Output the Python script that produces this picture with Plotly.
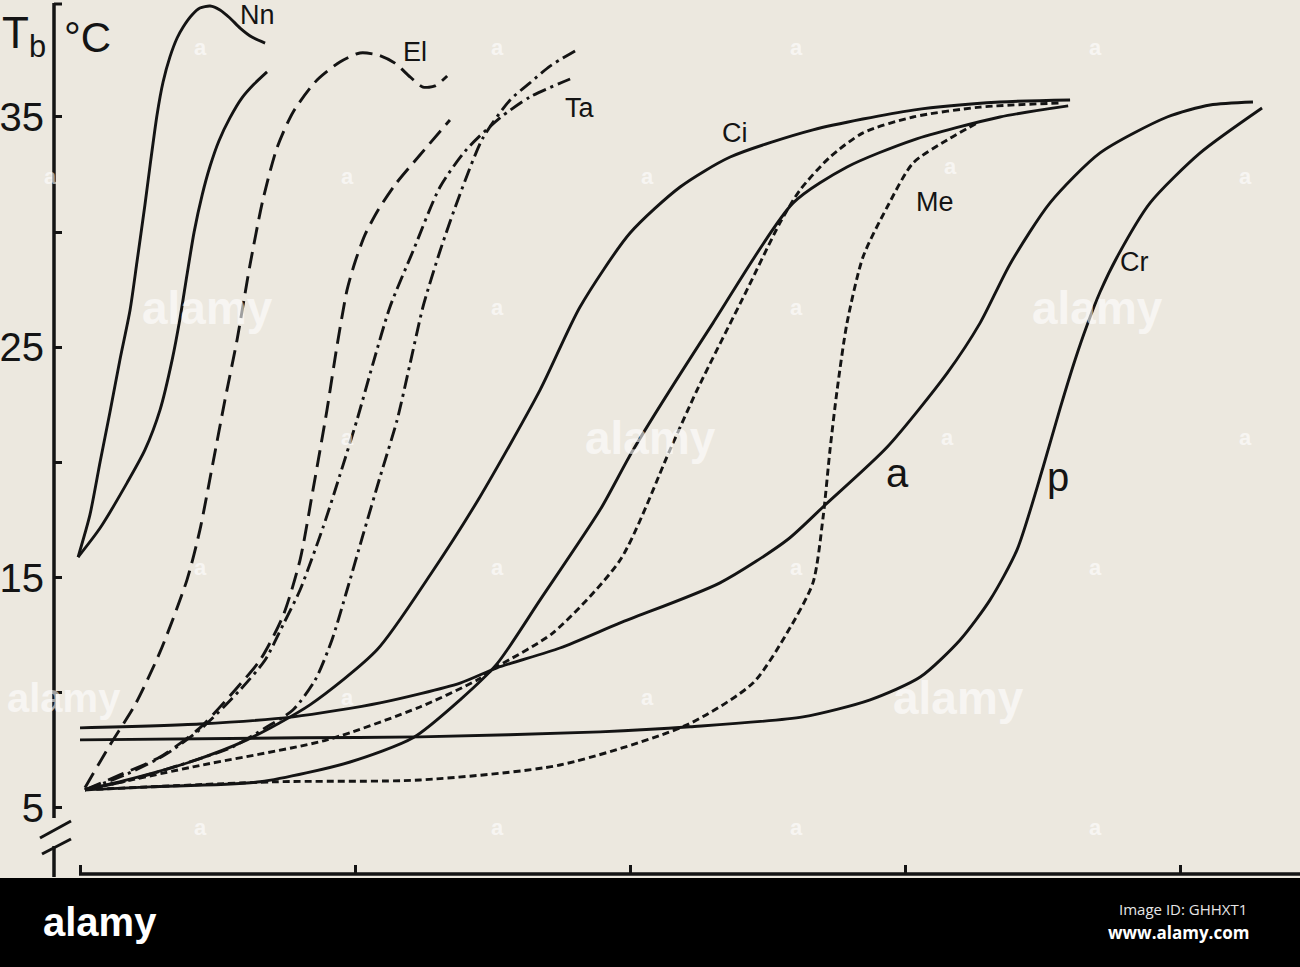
import plotly.graph_objects as go

# ---------------- data (x: time in axis-tick units, T: body temperature in deg C) -------------
nn1_x = [-0.007, 0.036, 0.073, 0.109, 0.145, 0.182, 0.207, 0.236, 0.255, 0.280, 0.302, 0.327,
         0.353, 0.375, 0.407, 0.436, 0.473, 0.509, 0.545, 0.582, 0.625, 0.673]
nn1_t = [15.89, 17.72, 20.02, 22.19, 24.45, 26.62, 28.70, 31.18, 32.92, 35.09, 36.52, 37.61,
         38.43, 38.91, 39.43, 39.73, 39.82, 39.65, 39.30, 38.86, 38.47, 38.21]

nn2_x = [-0.007, 0.073, 0.171, 0.236, 0.291, 0.335, 0.364, 0.389, 0.415, 0.444, 0.473, 0.505,
         0.545, 0.589, 0.633, 0.680]
nn2_t = [15.89, 17.15, 19.11, 20.54, 22.28, 24.45, 26.28, 28.15, 30.01, 31.61, 32.87, 33.96,
         34.96, 35.83, 36.43, 36.96]

el_x = [0.018, 0.109, 0.200, 0.291, 0.389, 0.436, 0.484, 0.527, 0.571, 0.618, 0.665, 0.716,
        0.775, 0.862, 0.945, 1.018, 1.084, 1.145, 1.200, 1.247, 1.291, 1.335]
el_t = [5.87, 7.73, 9.47, 11.77, 14.90, 17.07, 20.02, 22.71, 25.32, 28.57, 31.40, 33.65,
        35.22, 36.61, 37.39, 37.78, 37.69, 37.34, 36.74, 36.30, 36.35, 36.78]

dash2_x = [0.018, 0.145, 0.291, 0.436, 0.564, 0.655, 0.738, 0.800, 0.847, 0.898, 0.935, 0.971,
           1.000, 1.036, 1.084, 1.145, 1.236, 1.345]
dash2_t = [5.78, 6.43, 7.21, 8.47, 10.12, 11.42, 13.33, 15.76, 18.80, 22.28, 25.10, 27.49,
           28.70, 29.88, 30.96, 32.05, 33.35, 34.87]

ta1_x = [0.018, 0.164, 0.309, 0.447, 0.582, 0.673, 0.738, 0.800, 0.884, 0.945, 1.007, 1.065,
         1.127, 1.211, 1.309, 1.407, 1.527, 1.636, 1.782]
ta1_t = [5.78, 6.43, 7.30, 8.51, 10.12, 11.42, 12.94, 14.46, 17.19, 19.45, 21.84, 24.28,
         26.75, 29.18, 31.96, 33.61, 34.96, 35.87, 36.65]

ta2_x = [0.018, 0.182, 0.364, 0.556, 0.673, 0.774, 0.855, 0.916, 0.971, 1.029, 1.091, 1.153,
         1.200, 1.247, 1.309, 1.382, 1.465, 1.564, 1.636, 1.709, 1.800]
ta2_t = [5.78, 6.21, 6.86, 7.65, 8.47, 9.25, 10.55, 12.29, 14.46, 16.85, 19.37, 21.84,
         24.28, 26.75, 29.18, 31.66, 34.09, 35.74, 36.48, 37.21, 37.87]

ci1_x = [0.018, 0.171, 0.400, 0.607, 0.836, 1.080, 1.273, 1.454, 1.673, 1.818, 2.000, 2.182,
         2.364, 2.665, 3.029, 3.345, 3.600]
ci1_t = [5.78, 6.21, 6.99, 7.95, 9.47, 11.86, 15.11, 18.50, 23.15, 26.75, 29.96, 31.96,
         33.26, 34.44, 35.30, 35.65, 35.74]

ci2_x = [0.018, 0.255, 0.655, 0.982, 1.211, 1.382, 1.516, 1.673, 1.891, 2.011, 2.302, 2.593,
         2.789, 3.029, 3.345, 3.593]
ci2_t = [5.78, 5.91, 6.13, 6.99, 8.04, 9.69, 11.25, 14.03, 17.94, 20.54, 26.06, 31.27,
         32.83, 34.00, 35.00, 35.48]

me1_x = [0.018, 0.411, 0.898, 1.236, 1.444, 1.516, 1.720, 1.964, 2.145, 2.244, 2.425, 2.545,
         2.618, 2.727, 2.847, 3.029, 3.273, 3.564]
me1_t = [5.78, 6.78, 7.95, 9.38, 10.55, 11.12, 12.60, 15.76, 20.54, 23.15, 27.49, 30.40,
         31.83, 33.26, 34.31, 35.00, 35.43, 35.61]

me2_x = [0.018, 0.702, 1.236, 1.745, 2.207, 2.447, 2.571, 2.665, 2.702, 2.727, 2.753, 2.789,
         2.847, 2.935, 3.029, 3.153, 3.262]
me2_t = [5.78, 6.13, 6.21, 6.86, 8.60, 10.42, 12.60, 14.77, 17.63, 20.54, 23.15, 26.06,
         28.92, 31.09, 33.00, 34.00, 34.74]

cra_x = [0.000, 0.436, 0.775, 1.091, 1.382, 1.516, 1.745, 1.964, 2.327, 2.571, 2.709, 2.935,
         3.153, 3.273, 3.382, 3.527, 3.709, 3.953, 4.109, 4.265]
cra_t = [8.47, 8.64, 8.95, 9.56, 10.42, 11.08, 11.94, 13.03, 14.77, 16.63, 18.15, 20.67,
         23.88, 26.06, 28.62, 31.27, 33.44, 35.00, 35.52, 35.65]

crp_x = [0.000, 0.800, 1.236, 1.891, 2.218, 2.629, 2.873, 3.055, 3.200, 3.309, 3.407, 3.502,
         3.564, 3.618, 3.662, 3.709, 3.771, 3.891, 4.073, 4.298]
crp_t = [7.95, 8.04, 8.08, 8.30, 8.52, 8.95, 9.69, 10.68, 12.29, 14.03, 16.20, 19.80,
         22.36, 24.45, 25.97, 27.40, 28.92, 31.27, 33.44, 35.39]

y_major_ticks = [5, 15, 25, 35]
y_minor_ticks = [10, 20, 30]
x_tick_vals = [0, 1, 2, 3, 4]

curve_labels = ["Nn", "El", "Ta", "Ci", "Me", "Cr", "a", "p"]
label_x = [0.647, 1.218, 1.818, 2.382, 3.109, 3.833, 2.971, 3.555]
label_t = [39.45, 37.82, 35.39, 34.31, 31.30, 28.70, 19.55, 19.35]

# ---------------- styling ----------------
BG = "#ece8df"
INK = "#141414"
FONT = "Liberation Sans, Arial, sans-serif"
WMFONT = "Liberation Sans, Arial, sans-serif"
LONG_DASH = "17px,8px"
SHORT_DASH = "7px,4px"
DASH_DOT = "14px,5px,3px,5px"

series = [
    (nn1_x, nn1_t, "solid"), (nn2_x, nn2_t, "solid"),
    (el_x, el_t, LONG_DASH), (dash2_x, dash2_t, LONG_DASH),
    (ta1_x, ta1_t, DASH_DOT), (ta2_x, ta2_t, DASH_DOT),
    (ci1_x, ci1_t, "solid"), (ci2_x, ci2_t, "solid"),
    (me1_x, me1_t, SHORT_DASH), (me2_x, me2_t, SHORT_DASH),
    (cra_x, cra_t, "solid"), (crp_x, crp_t, "solid"),
]

W, H = 1300, 967
ML, MB = 54, 94
PW, PH = W - ML, H - MB


def pxx(px):
    return (px - ML) / PW


def pxy(py):
    return (PH - py) / PH


def note(px, py, text, size, color=INK, family=FONT, xanchor="center"):
    return dict(x=pxx(px), y=pxy(py), xref="paper", yref="paper", text=text, showarrow=False,
                xanchor=xanchor, yanchor="middle", font=dict(family=family, size=size, color=color))


fig = go.Figure()
for xs, ts, dash in series:
    fig.add_trace(go.Scatter(x=xs, y=ts, mode="lines", hoverinfo="skip", showlegend=False,
                             line=dict(color=INK, width=2.9, dash=dash, shape="spline", smoothing=0.7)))

shapes = []
# y axis (broken) and top bracket
shapes.append(dict(type="line", xref="paper", yref="paper", x0=0, x1=0, y0=pxy(3), y1=pxy(818),
                   line=dict(color=INK, width=3.5)))
shapes.append(dict(type="line", xref="paper", yref="paper", x0=0, x1=pxx(62), y0=pxy(4), y1=pxy(4),
                   line=dict(color=INK, width=3)))
shapes.append(dict(type="line", xref="paper", yref="paper", x0=0, x1=0, y0=pxy(846), y1=pxy(877),
                   line=dict(color=INK, width=3.5)))
shapes.append(dict(type="line", xref="paper", yref="paper", x0=pxx(40), x1=pxx(71), y0=pxy(838), y1=pxy(821),
                   line=dict(color=INK, width=3)))
shapes.append(dict(type="line", xref="paper", yref="paper", x0=pxx(42), x1=pxx(71), y0=pxy(854), y1=pxy(839),
                   line=dict(color=INK, width=3)))
# x axis line
shapes.append(dict(type="line", xref="paper", yref="paper", x0=pxx(79), x1=1.0, y0=pxy(874), y1=pxy(874),
                   line=dict(color=INK, width=3.5)))
# bottom banner
shapes.append(dict(type="rect", xref="paper", yref="paper", x0=pxx(-5), x1=pxx(1305), y0=pxy(878), y1=pxy(970),
                   fillcolor="#000000", line=dict(width=0), layer="above"))

annotations = []
for txt, lx, lt in zip(curve_labels, label_x, label_t):
    big = txt in ("a", "p")
    annotations.append(dict(x=lx, y=lt, xref="x", yref="y", text=txt, showarrow=False,
                            xanchor="center", yanchor="middle",
                            font=dict(family=FONT, size=40 if big else 27, color=INK)))

# axis title
annotations.append(note(24, 36, "T<sub>b</sub>", 44))
annotations.append(note(87, 38, "°C", 42))

# watermark
WM = "rgba(255,255,255,0.6)"
small_marks = [(200, 47), (497, 47), (797, 47), (1095, 47),
               (50, 177), (347, 177), (647, 177), (950, 166), (1245, 177),
               (497, 307), (797, 307),
               (347, 437), (947, 437), (1245, 437),
               (200, 567), (497, 567), (797, 567), (1095, 567),
               (347, 697), (647, 697),
               (200, 827), (497, 827), (797, 827), (1095, 827)]
for wx, wy in small_marks:
    annotations.append(note(wx, wy, "<b>a</b>", 22, WM, WMFONT))
for wx, wy, ws in [(207, 308, 46), (1097, 308, 46), (650, 438, 46), (64, 698, 40), (958, 698, 46)]:
    annotations.append(note(wx, wy, "<b>alamy</b>", ws, WM, WMFONT))

# banner text
annotations.append(note(100, 922, "<b>alamy</b>", 40, "#ffffff", WMFONT))
annotations.append(note(1249, 909, "Image ID: GHHXT1", 15, "#e6e6e6",
                        "Open Sans, Noto Sans, sans-serif", xanchor="right"))
annotations.append(note(1251, 932, "<b>www.alamy.com</b>", 17, "#ffffff",
                        "Open Sans, Noto Sans, sans-serif", xanchor="right"))

fig.update_layout(
    width=W, height=H, autosize=False,
    margin=dict(l=ML, r=0, t=0, b=MB, pad=0),
    paper_bgcolor=BG, plot_bgcolor=BG,
    shapes=shapes, annotations=annotations,
    xaxis=dict(range=[-0.0946, 4.436], showgrid=False, zeroline=False, showline=False,
               tickmode="array", tickvals=x_tick_vals, ticks="inside", ticklen=8, tickwidth=3,
               tickcolor=INK, showticklabels=False, fixedrange=True),
    yaxis=dict(range=[2.17, 40.08], showgrid=False, zeroline=False, showline=False,
               tickmode="array", tickvals=y_major_ticks, ticks="inside", ticklen=8, tickwidth=3,
               tickcolor=INK, ticklabelstandoff=9,
               tickfont=dict(family=FONT, size=40, color=INK), fixedrange=True,
               minor=dict(tickmode="array", tickvals=y_minor_ticks, ticks="inside", ticklen=8,
                          tickwidth=3, tickcolor=INK, showgrid=False)),
)

fig.write_html("out.html", config={"displayModeBar": False},
               post_script="document.body.style.margin='0';document.body.style.overflow='hidden';")
